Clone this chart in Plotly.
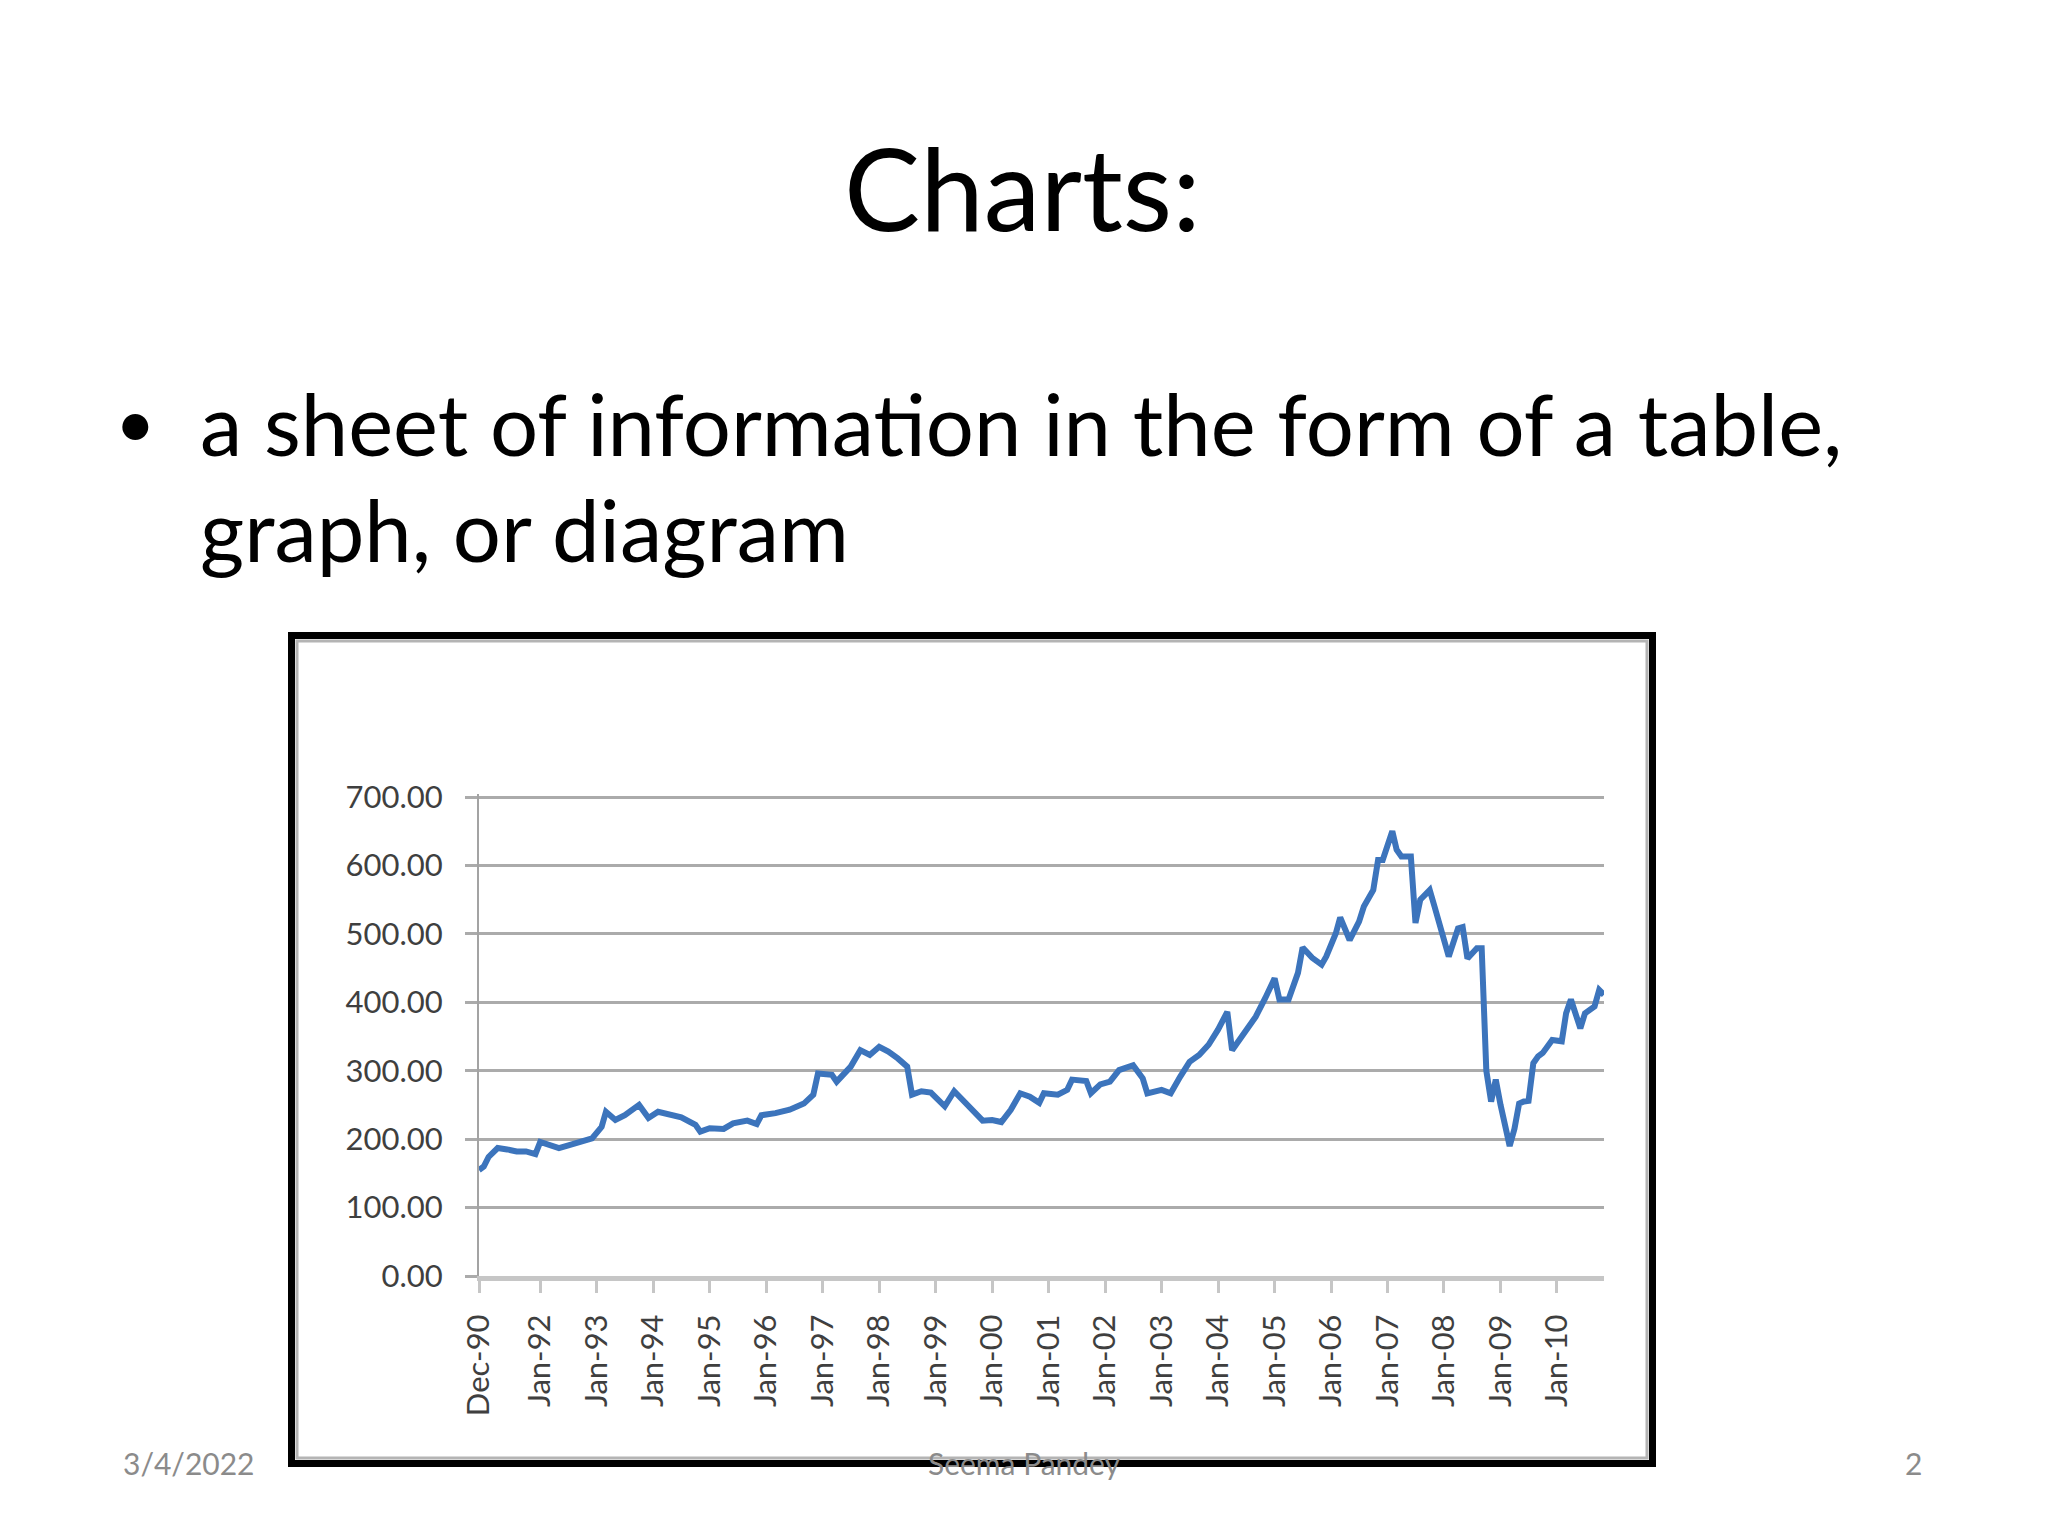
import plotly.graph_objects as go

# ---------------- data ----------------
dates = [
    "1990-12-01", "1991-01-01", "1991-02-01", "1991-04-01", "1991-06-01", "1991-08-01", "1991-10-01",
    "1991-12-01", "1992-01-01", "1992-03-01", "1992-05-01", "1992-07-01", "1992-09-01", "1992-11-01",
    "1992-12-01", "1993-02-01", "1993-03-01", "1993-05-01", "1993-07-01", "1993-10-01", "1993-12-01",
    "1994-02-01", "1994-05-01", "1994-07-01", "1994-10-01", "1994-11-01", "1995-01-01", "1995-04-01",
    "1995-06-01", "1995-09-01", "1995-11-01", "1995-12-01", "1996-03-01", "1996-06-01", "1996-09-01",
    "1996-11-01", "1996-12-01", "1997-03-01", "1997-04-01", "1997-07-01", "1997-09-01", "1997-11-01",
    "1998-01-01", "1998-03-01", "1998-05-01", "1998-07-01", "1998-08-01", "1998-10-01", "1998-12-01",
    "1999-02-01", "1999-03-01", "1999-05-01", "1999-07-01", "1999-09-01", "1999-11-01", "2000-01-01",
    "2000-03-01", "2000-05-01", "2000-07-01", "2000-09-01", "2000-11-01", "2000-12-01", "2001-03-01",
    "2001-05-01", "2001-06-01", "2001-09-01", "2001-10-01", "2001-12-01", "2002-02-01", "2002-04-01",
    "2002-07-01", "2002-09-01", "2002-10-01", "2003-01-01", "2003-03-01", "2003-05-01", "2003-07-01",
    "2003-09-01", "2003-11-01", "2004-01-01", "2004-03-01", "2004-04-01", "2004-07-01", "2004-09-01",
    "2004-11-01", "2005-01-01", "2005-02-01", "2005-04-01", "2005-06-01", "2005-07-01", "2005-09-01",
    "2005-11-01", "2005-12-01", "2006-02-01", "2006-03-01", "2006-05-01", "2006-07-01", "2006-08-01",
    "2006-10-01", "2006-11-01", "2006-12-01", "2007-02-01", "2007-03-01", "2007-04-01", "2007-06-01",
    "2007-07-01", "2007-08-01", "2007-10-01", "2007-11-01", "2008-01-01", "2008-02-01", "2008-04-01",
    "2008-05-01", "2008-06-01", "2008-08-01", "2008-09-01", "2008-10-01", "2008-11-01", "2008-12-01",
    "2009-01-01", "2009-02-01", "2009-03-01", "2009-04-01", "2009-05-01", "2009-06-01", "2009-07-01",
    "2009-08-01", "2009-09-01", "2009-10-01", "2009-12-01", "2010-02-01", "2010-03-01", "2010-04-01",
    "2010-06-01", "2010-07-01", "2010-09-01", "2010-10-01", "2010-11-01",
]
values = [
    155, 160, 174, 187, 185, 182, 182,
    178, 196, 191, 187, 191, 195, 197,
    201, 218, 240, 228, 235, 250, 231,
    240, 235, 232, 221, 211, 216, 215,
    223, 227, 222, 235, 238, 243, 252,
    265, 296, 294, 284, 306, 330, 323,
    335, 328, 318, 306, 265, 270, 268,
    252, 248, 270, 255, 240, 227, 228,
    225, 243, 267, 262, 253, 267, 265,
    272, 287, 285, 267, 280, 284, 301,
    308, 289, 267, 272, 267, 291, 313,
    323, 338, 360, 386, 330, 360, 379,
    406, 435, 404, 404, 443, 480, 465,
    455, 467, 501, 524, 491, 518, 540,
    564, 608, 608, 650, 623, 613, 613,
    516, 550, 564, 540, 486, 467, 508,
    510, 464, 479, 479, 300, 255, 287,
    250, 215, 190, 215, 252, 255, 256,
    311, 321, 326, 345, 343, 384, 404,
    362, 384, 394, 418, 411,
]

x_tick_dates = ["1990-12-01"] + [f"{y}-01-01" for y in range(1992, 2011)]
x_tick_labels = ["Dec-90", "Jan-92", "Jan-93", "Jan-94", "Jan-95", "Jan-96", "Jan-97", "Jan-98",
                 "Jan-99", "Jan-00", "Jan-01", "Jan-02", "Jan-03", "Jan-04", "Jan-05", "Jan-06",
                 "Jan-07", "Jan-08", "Jan-09", "Jan-10"]
y_ticks = [0, 100, 200, 300, 400, 500, 600, 700]

title_text = "Charts:"
bullet_line1 = "a sheet of information in the form of a table,"
bullet_line2 = "graph, or diagram"
footer_date = "3/4/2022"
footer_author = "Seema Pandey"
footer_page = "2"

# ---------------- layout helpers ----------------
W, H = 2048, 1536


def px(x):
    return x / W


def py(y):
    return 1 - y / H


FONT = "Lato"

fig = go.Figure()
fig.add_trace(go.Scatter(
    x=dates, y=values, mode="lines",
    line=dict(color="#3C74BC", width=6),
    hoverinfo="skip", showlegend=False,
))

fig.update_layout(
    width=W, height=H, autosize=False,
    margin=dict(l=0, r=0, t=0, b=0),
    paper_bgcolor="white", plot_bgcolor="white",
    showlegend=False,
    xaxis=dict(
        domain=[px(479), px(1604)],
        type="date",
        range=["1990-12-01", "2010-11-01"],
        tickmode="array", tickvals=x_tick_dates, ticktext=x_tick_labels,
        tickangle=-90,
        tickfont=dict(family=FONT, size=31, color="#3f3f3f"),
        ticks="outside", ticklen=12, tickwidth=3, tickcolor="#c6c6c6",
        ticklabelstandoff=9,
        showline=True, linecolor="#c6c6c6", linewidth=5,
        showgrid=False, zeroline=False, automargin=False,
    ),
    yaxis=dict(
        domain=[py(1276), py(793.6)],
        range=[0, 705],
        tickmode="array", tickvals=y_ticks, tickformat=".2f",
        tickfont=dict(family=FONT, size=31, color="#3f3f3f"),
        ticks="outside", ticklen=12, tickwidth=3, tickcolor="#ababab",
        ticklabelstandoff=16,
        showgrid=True, gridcolor="#ababab", gridwidth=3,
        showline=True, linecolor="#a3a3a3", linewidth=2,
        zeroline=False, automargin=False,
    ),
)

# picture frame (black border + thin grey inner border)
fig.add_shape(type="rect", xref="paper", yref="paper",
              x0=px(291.5), x1=px(1652.5), y0=py(1463.5), y1=py(635.5),
              line=dict(color="#000000", width=7), layer="below")
fig.add_shape(type="rect", xref="paper", yref="paper",
              x0=px(297), x1=px(1647), y0=py(1458), y1=py(641),
              line=dict(color="#b4b4b4", width=3), layer="below")

# slide texts
fig.add_annotation(text=title_text, x=px(1022), y=py(186), xref="paper", yref="paper",
                   xanchor="center", yanchor="middle", showarrow=False,
                   font=dict(family=FONT, size=114, color="#000000"))
fig.add_annotation(text="•", x=px(135), y=py(421), xref="paper", yref="paper",
                   xanchor="center", yanchor="middle", showarrow=False,
                   font=dict(family=FONT, size=70, color="#000000"))
fig.add_annotation(text=bullet_line1, x=px(198), y=py(423), xref="paper", yref="paper",
                   xanchor="left", yanchor="middle", showarrow=False,
                   font=dict(family=FONT, size=85, color="#000000"))
fig.add_annotation(text=bullet_line2, x=px(198), y=py(529), xref="paper", yref="paper",
                   xanchor="left", yanchor="middle", showarrow=False,
                   font=dict(family=FONT, size=85, color="#000000"))
fig.add_annotation(text=footer_date, x=px(121), y=py(1463), xref="paper", yref="paper",
                   xanchor="left", yanchor="middle", showarrow=False,
                   font=dict(family=FONT, size=30, color="#8b8b8b"))
fig.add_annotation(text=footer_author, x=px(1024), y=py(1463), xref="paper", yref="paper",
                   xanchor="center", yanchor="middle", showarrow=False,
                   font=dict(family=FONT, size=30, color="#8b8b8b"))
fig.add_annotation(text=footer_page, x=px(1924), y=py(1463), xref="paper", yref="paper",
                   xanchor="right", yanchor="middle", showarrow=False,
                   font=dict(family=FONT, size=30, color="#8b8b8b"))

fig.write_html("out.html", config={"displayModeBar": False},
               post_script="document.body.style.margin='0';")
